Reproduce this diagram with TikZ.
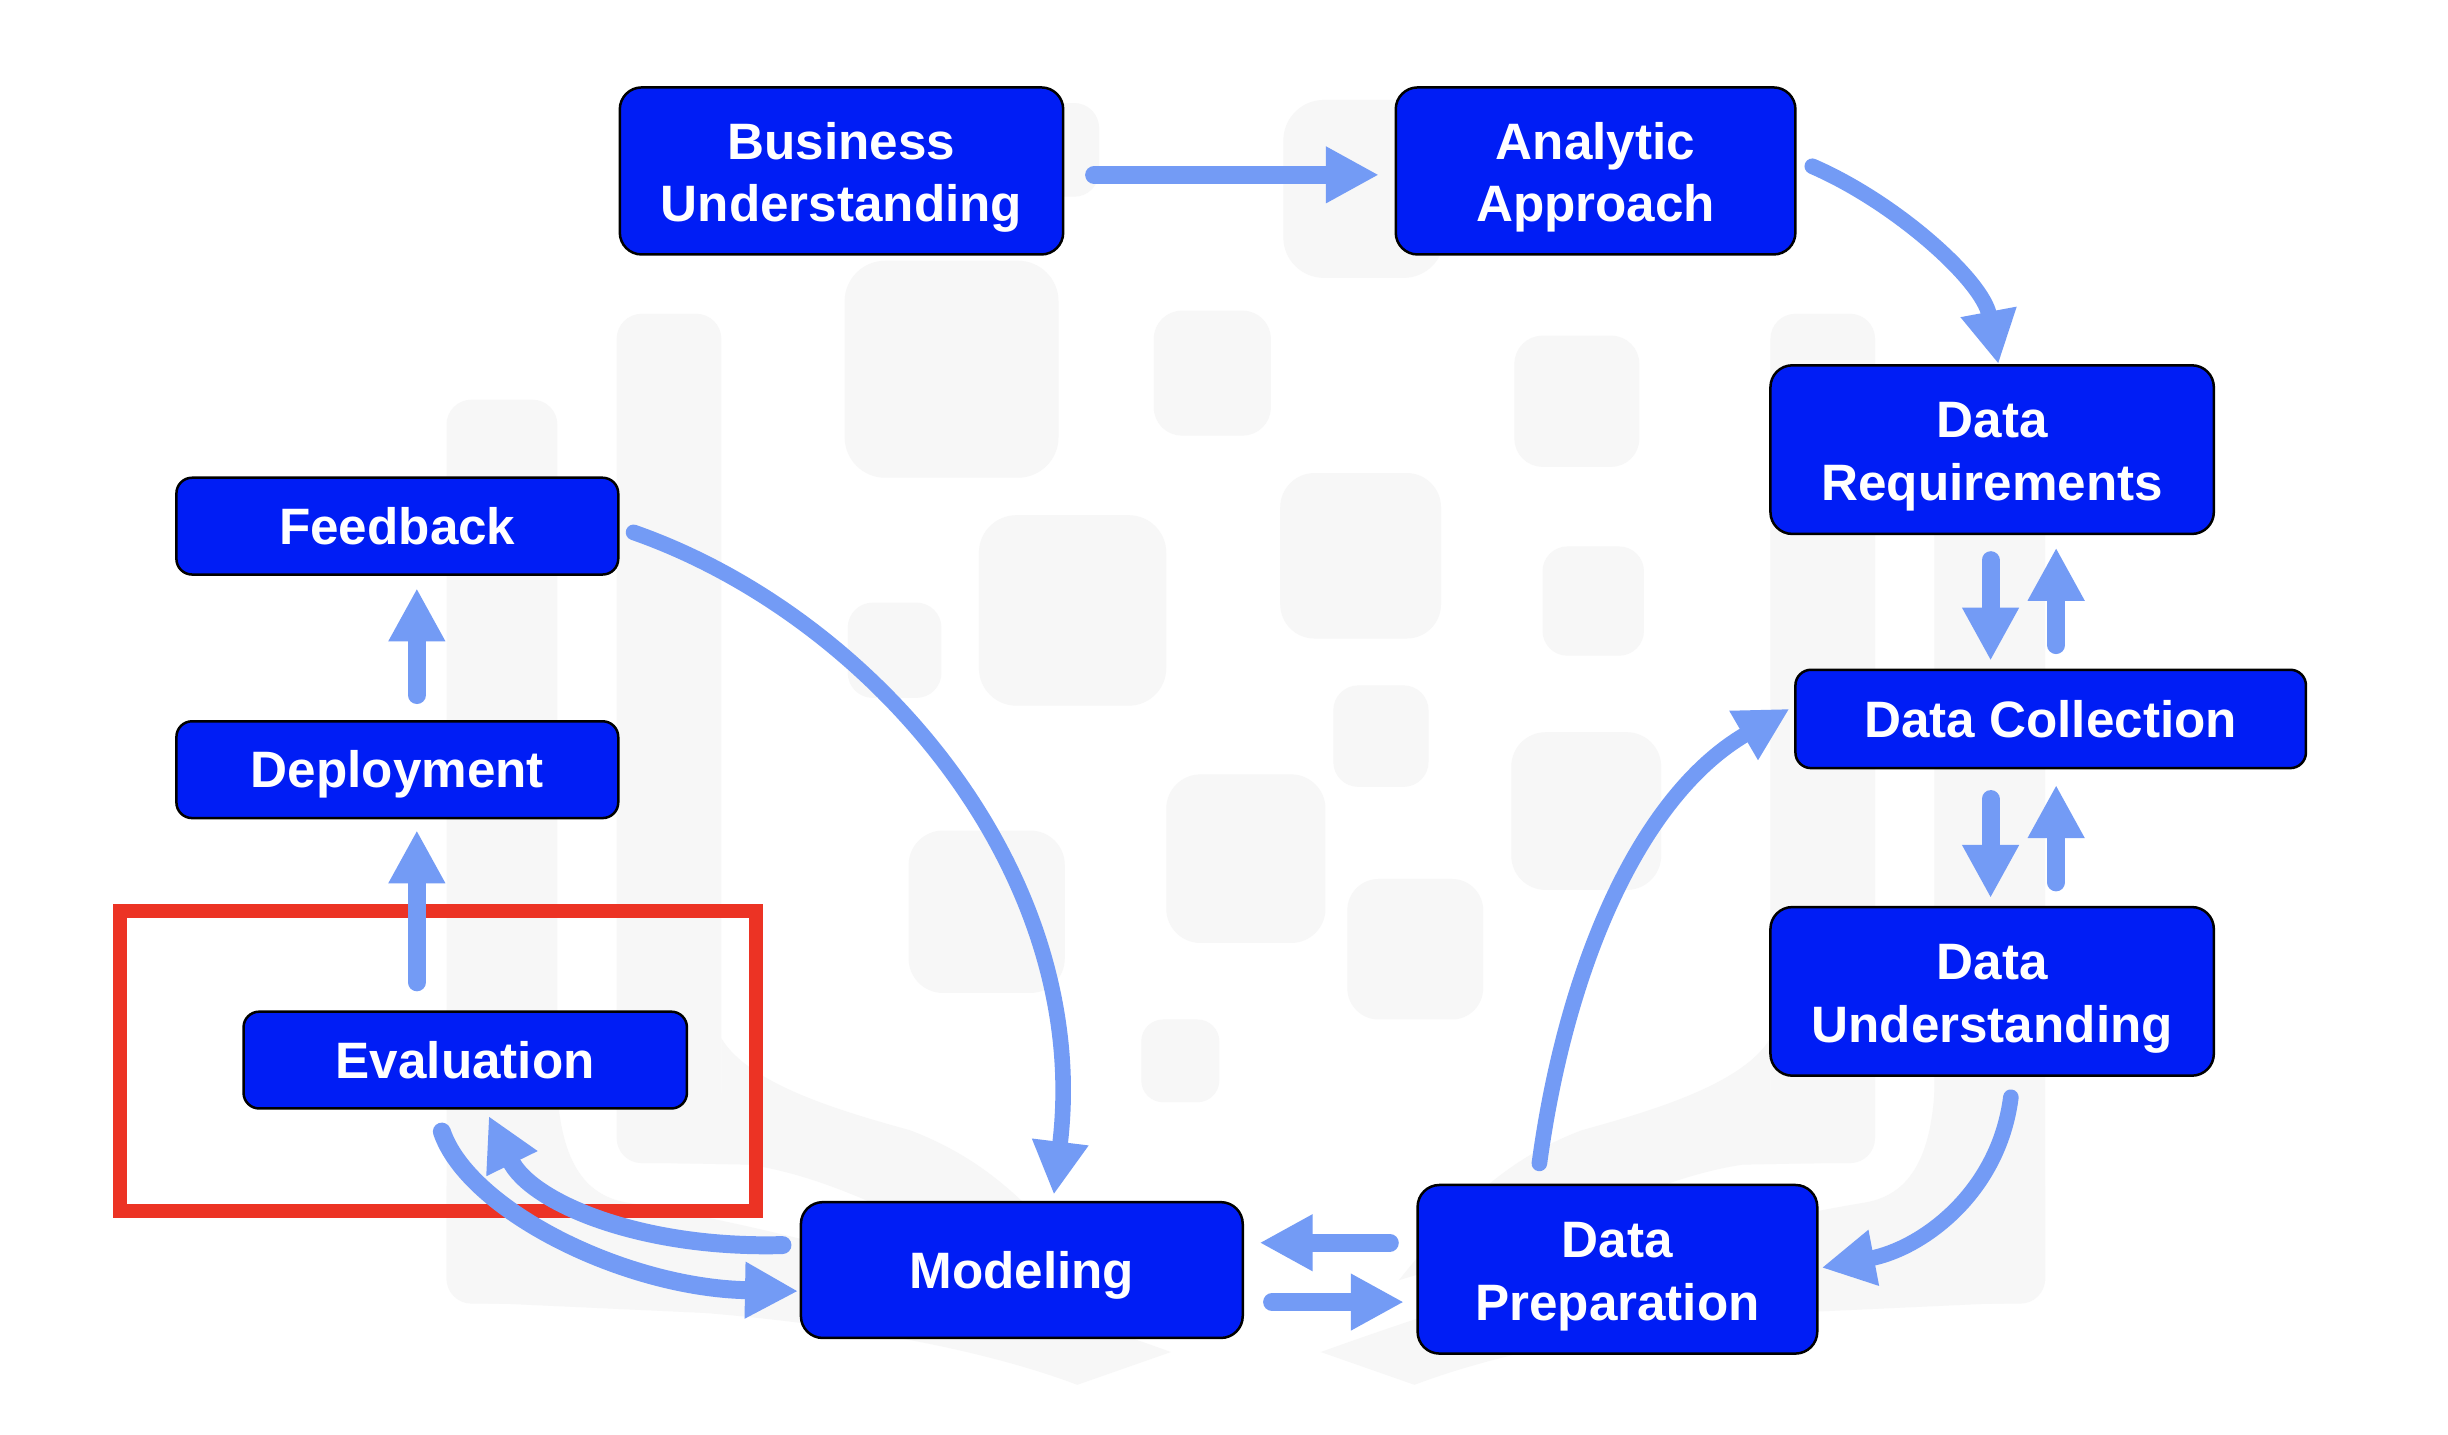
\documentclass[tikz,border=0pt]{standalone}
\usepackage{fontspec}
\setmainfont{Liberation Sans}
\usetikzlibrary{arrows.meta,calc}
\definecolor{boxblue}{RGB}{0,29,245}
\definecolor{arrowblue}{RGB}{115,155,245}
\definecolor{framered}{RGB}{236,51,36}
\definecolor{bggrey}{RGB}{247,247,247}
\newcommand{\twolines}[2]{\smash{\begin{tabular}[t]{@{}c@{}}#1\\#2\end{tabular}}}
\begin{document}
\begin{tikzpicture}[x=0.5pt,y=-0.5pt,
  stage/.style={draw=black, line width=0.8pt, fill=boxblue, text=white,
    font=\fontsize{16.4}{20}\selectfont\bfseries, align=center, inner sep=0pt,
    rounded corners=7pt, text height=11.7pt, text depth=0pt},
  tallbox/.style={stage, minimum height=54pt, text height=0pt, text depth=7.5pt},
  flatbox/.style={stage, rounded corners=5pt, minimum height=31pt},
  flow/.style={draw=arrowblue, line width=5.75pt, line cap=round,
    -{Triangle[width=17pt,length=17pt]}},
  thinflow/.style={flow, line width=5pt},
  bgshape/.style={fill=bggrey},
]
\useasboundingbox (0,0) rectangle (1568,919);
\fill[white] (0,0) rectangle (1568,919);

% background decoration
\foreach \a/\b/\c/\d/\r in {541/167/678/306/13, 739/199/814/279/9, 970/215/1050/299/9,
  820/303/923/409/11, 627/330/747/452/12, 988/350/1053/420/8, 543/386/603/447/8,
  854/439/915/504/8, 747/496/849/604/11, 968/469/1064/570/11, 582/532/682/636/11,
  863/563/950/653/10, 731/653/781/706/7, 822/64/925/178/13, 600/66/704/126/8}
  {\fill[bgshape, rounded corners=\r pt] (\a,\b) rectangle (\c,\d);}
\foreach \s/\m in {0/1, 1596/-1}{
\begin{scope}[shift={(\s,0)}, xscale=\m]
  \fill[bgshape, rounded corners=8pt] (286,256) rectangle (357,835);
  \fill[bgshape, rounded corners=8pt] (395,201) rectangle (462,745);
  \fill[bgshape] (286,760) -- (357,700) .. controls (360,745) and (375,765) .. (400,770)
    .. controls (520,790) and (650,830) .. (750,866) -- (690,887)
    .. controls (640,868) and (560,850) .. (452,841) -- (300,834) -- (286,820) -- cycle;
  \fill[bgshape] (430,745) -- (462,700) -- (462,665) .. controls (480,695) and (540,712) .. (583,724)
    .. controls (630,742) and (660,770) .. (700,820) -- (600,790)
    .. controls (560,770) and (520,752) .. (480,746) -- cycle;
\end{scope}}

% highlight frame
\node[draw=framered, line width=4.5pt, inner sep=0pt, minimum width=203.75pt,
  minimum height=96pt] (hl) at (280.75,679.5) {};

% stages
\node[tallbox, minimum width=142pt, minimum height=53.5pt] (BU) at (539,109.5) {\twolines{Business}{Understanding}};
\node[tallbox, minimum width=128pt, minimum height=53.5pt] (AA) at (1022,109.5) {\twolines{Analytic}{Approach}};
\node[tallbox, minimum width=142pt] (DR) at (1276,288) {\twolines{Data}{Requirements}};
\node[flatbox, minimum width=163.5pt, minimum height=31.5pt] (DC) at (1313.5,460.5) {Data Collection};
\node[tallbox, minimum width=142pt] (DU) at (1276,635) {\twolines{Data}{Understanding}};
\node[tallbox, minimum width=128pt] (DP) at (1036,813) {\twolines{Data}{Preparation}};
\node[stage, minimum width=141.5pt, minimum height=43.5pt] (MO) at (654.5,813.5) {Modeling};
\node[flatbox, minimum width=142pt] (EV) at (298,679) {Evaluation};
\node[flatbox, minimum width=141.5pt] (DE) at (254.5,493) {Deployment};
\node[flatbox, minimum width=141.5pt] (FB) at (254.5,337) {Feedback};

% connectors
\draw[flow] ($(BU.east)+(19,2.5)$) -- ($(AA.west)+(-10,2.5)$);
\draw[thinflow] ($(AA.east)+(10,-3)$) .. controls (1215,130) and (1270,180) .. ($(DR.north)+(4,0)$);
\draw[flow] ($(DR.south)+(-1,16)$) -- ($(DR.south |- DC.north)+(-1,-5)$);
\draw[flow] ($(DR.south |- DC.north)+(41,-15)$) -- ($(DR.south)+(41,8)$);
\draw[flow] ($(DU.north |- DC.south)+(-1,19)$) -- ($(DU.north)+(-1,-5)$);
\draw[flow] ($(DU.north)+(41,-15)$) -- ($(DU.north |- DC.south)+(41,10)$);
\draw[thinflow] ($(DU.south)+(12,13)$) .. controls (1280,765) and (1230,800) .. ($(DP.east)+(2,-1)$);
\draw[thinflow] ($(DP.north)+(-50,-13)$) .. controls (1003,620) and (1050,510) .. ($(DC.west)+(-3,-6.5)$);
\draw[flow] ($(DP.west)+(-17,-17)$) -- ($(MO.east)+(10,-17.5)$);
\draw[flow] ($(MO.east)+(18,20.5)$) -- ($(DP.west)+(-8,21)$);
\draw[flow] ($(MO.west)+(-11,-16)$) .. controls (410,800) and (340,770) .. ($(EV.south)+(15,4)$);
\draw[flow] ($(EV.south)+(-15,14)$) .. controls (300,775) and (400,825) .. ($(MO.west)+(-1,13.5)$);
\draw[flow] ($(EV.north)+(-31,-18)$) -- ($(DE.south)+(12.5,7)$);
\draw[flow] ($(DE.north)+(12.5,-16)$) -- ($(FB.south)+(12.5,8)$);
\draw[thinflow] ($(FB.east)+(9,4)$) .. controls (560,395) and (700,560) .. ($(MO.north)+(20.5,-4)$);
\end{tikzpicture}
\end{document}
